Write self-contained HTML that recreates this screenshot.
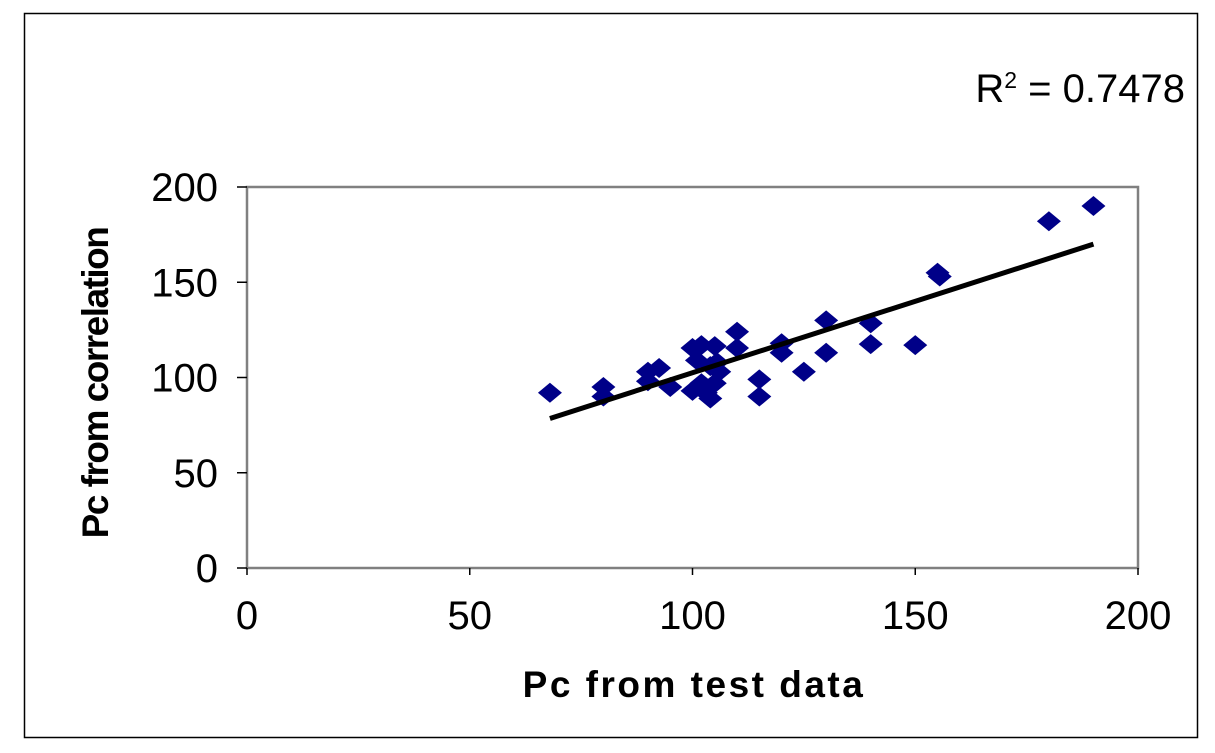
<!DOCTYPE html>
<html><head><meta charset="utf-8"><style>
body{margin:0;background:#fff;width:1215px;height:753px;overflow:hidden}
svg{display:block;font-family:"Liberation Sans",Arial,sans-serif}
</style></head><body>
<svg id="chart" width="1215" height="753">
<rect x="24.5" y="13.5" width="1173" height="724" fill="#fff" stroke="#000" stroke-width="1.5"/>
<text x="1185" y="102" font-size="40" text-anchor="end">R<tspan font-size="23" dy="-14">2</tspan><tspan dy="14"> = 0.7478</tspan></text>
<g id="plot"></g>
<text x="694" y="697" font-size="37" font-weight="bold" text-anchor="middle" letter-spacing="2.5">Pc from test data</text>
<text transform="translate(108,383) rotate(-90)" font-size="37" font-weight="bold" text-anchor="middle" letter-spacing="-1.5">Pc from correlation</text>
</svg>
<script>
const xs=[68,80,80,90,92.5,90,95,100,102,105,100,104,101,104,102,105,103,106,105.5,110,110,120,120,115,115,125,130,130,140,140,150,155,155.5,180,190];
const ys=[92,95,90,103,105,98,95,115.5,117,116.5,93,89,109,106,97,97,92,103,108,124,115.5,118,113,99,90,103,130,113,128.5,117.5,117,155,153,182,190];
const xTicks=[0,50,100,150,200];
const yTicks=[0,50,100,150,200];
const trendX=[68,190];
const trendY=[78.5,170];
const X0=247,X1=1138,Y0=568,Y1=187;
const sx=v=>X0+(v-0)/(200-0)*(X1-X0);
const sy=v=>Y0-(v-0)/(200-0)*(Y0-Y1);
const NS="http://www.w3.org/2000/svg";
const g=document.getElementById('plot');
function mk(t,a){const e=document.createElementNS(NS,t);for(const k in a)e.setAttribute(k,a[k]);g.appendChild(e);return e;}
let fr=mk('rect',{x:X0,y:Y1,width:X1-X0,height:Y0-Y1,fill:'none',stroke:'#808080','stroke-width':2.5});


xTicks.forEach(t=>{
 const l=mk('line',{x1:sx(t),x2:sx(t),y1:Y0,y2:Y0+7,stroke:'#000','stroke-width':1.5});
 
 
 const tx=mk('text',{x:sx(t),y:Y0+61,'font-size':40,'text-anchor':'middle'});tx.textContent=t;
 
 
});
yTicks.forEach(t=>{
 const l=mk('line',{x1:X0-10,x2:X0,y1:sy(t),y2:sy(t),stroke:'#000','stroke-width':1.5});
 
 
 const tx=mk('text',{x:X0-29,y:sy(t)+14,'font-size':40,'text-anchor':'end'});tx.textContent=t;
 
 
});
xs.forEach((v,i)=>{
 const cx=sx(v),cy=sy(ys[i]);
 const p=mk('polygon',{points:`${cx},${cy-10} ${cx+12},${cy} ${cx},${cy+10} ${cx-12},${cy}`,fill:'#000088'});
 
 
});
const tl=mk('line',{x1:sx(trendX[0]),y1:sy(trendY[0]),x2:sx(trendX[1]),y2:sy(trendY[1]),stroke:'#000','stroke-width':5});


</script>
</body></html>
